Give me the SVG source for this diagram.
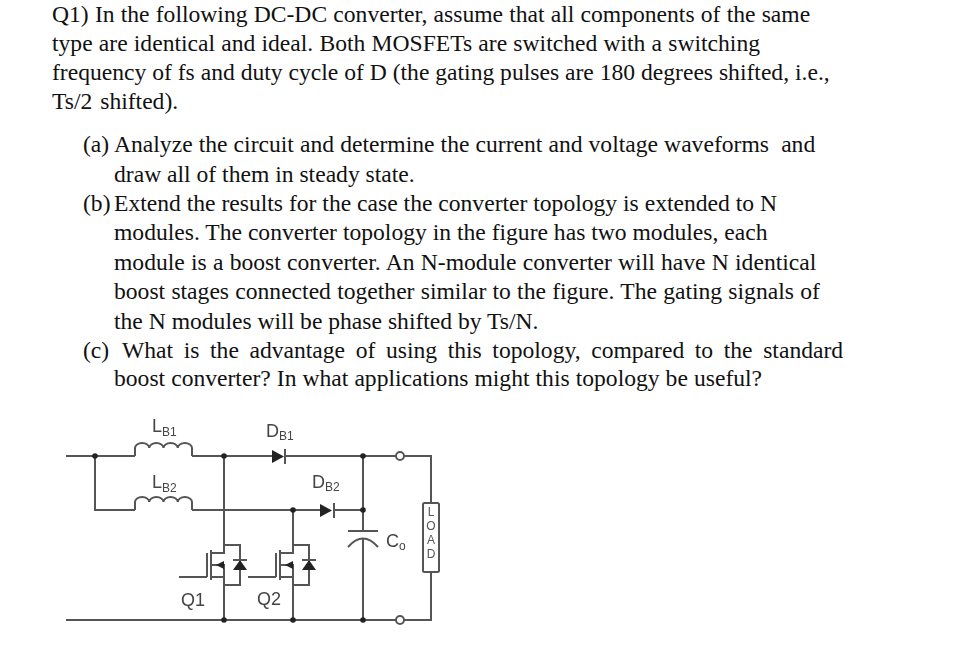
<svg xmlns="http://www.w3.org/2000/svg" width="956" height="652" viewBox="0 0 956 652">
<style>
.t{font-family:"Liberation Serif",serif;font-size:23.6px;fill:#111}
.l{font-family:"Liberation Sans",sans-serif;font-size:18px;fill:#444}
.s{font-size:12px}
.w{fill:none;stroke:#555;stroke-width:2}
.f{fill:#222;stroke:none}
.o{fill:#fff;stroke:#555;stroke-width:2}
</style>
<defs>
<filter id="soft" x="-5%" y="-5%" width="110%" height="110%"><feGaussianBlur stdDeviation="0.6"/></filter>
<path id="coil" d="M135 0v-8a7.125 5 0 0 1 14.250 0a7.125 5 0 0 1 14.250 0a7.125 5 0 0 1 14.250 0a7.125 5 0 0 1 14.250 0v8" class="w"/>
<g id="fet">
<path class="w" d="M-45 0H-17M-17 -24V0M-13 -27V3M-13 -24H0V-32M-13 0H0V8M-13 -12H0V0M0 -32H16V8H0"/>
<path class="f" d="M-8 -12L0 -16V-8Z"/>
<path class="f" d="M9 -7H23L16 -17Z"/>
<path class="w" d="M9 -17H23"/>
</g>
</defs>
<g id="question">
<text class="t" x="52" y="22" style="word-spacing:.3px">Q1) In the following DC-DC converter, assume that all components of the same</text>
<text class="t" x="52" y="51" style="word-spacing:.3px">type are identical and ideal. Both MOSFETs are switched with a switching</text>
<text class="t" x="52" y="80">frequency of fs and duty cycle of D (the gating pulses are 180 degrees shifted, i.e.,</text>
<text class="t" x="52" y="109" style="word-spacing:2px">Ts/2 shifted).</text>
<text class="t" x="83" y="152" xml:space="preserve" style="word-spacing:.2px">(a)<tspan x="114">Analyze the circuit and determine the current and voltage waveforms  and</tspan></text>
<text class="t" x="114" y="182">draw all of them in steady state.</text>
<text class="t" x="83" y="211">(b)<tspan x="114">Extend the results for the case the converter topology is extended to N</tspan></text>
<text class="t" x="114" y="240">modules. The converter topology in the figure has two modules, each</text>
<text class="t" x="114" y="270" style="word-spacing:.35px">module is a boost converter. An N-module converter will have N identical</text>
<text class="t" x="114" y="299" style="word-spacing:.35px">boost stages connected together similar to the figure. The gating signals of</text>
<text class="t" x="114" y="329">the N modules will be phase shifted by Ts/N.</text>
<text class="t" x="83" y="358" style="word-spacing:4.7px">(c)<tspan x="122">What is the advantage of using this topology, compared to the standard</tspan></text>
<text class="t" x="114" y="386" style="word-spacing:.15px">boost converter? In what applications might this topology be useful?</text>
</g>
<g id="circuit" filter="url(#soft)">
<g id="connectors">
<path class="w" d="M66 456H135M192 456H272M285 456H396M404 456H431V503M431 572V620H404M396 620H66"/>
<path class="w" d="M95 456V510H135M192 510H320M334 510H363M224 456V545M224 585V620M293 510V545M293 585V620M363 456V531M363 538V620"/>
</g>
<g id="LB1"><use href="#coil" transform="translate(0,456)"/><text class="l" x="152" y="432">L<tspan class="s" dy="4">B1</tspan></text></g>
<g id="LB2"><use href="#coil" transform="translate(0,510)"/><text class="l" x="152" y="488">L<tspan class="s" dy="4">B2</tspan></text></g>
<g id="DB1"><path class="f" d="M272 450V463L284 456.500Z"/><path class="w" d="M285 449V464"/><text class="l" x="266" y="437">D<tspan class="s" dy="3">B1</tspan></text></g>
<g id="DB2"><path class="f" d="M320 504V517L332 510.500Z"/><path class="w" d="M334 503V518"/><text class="l" x="312" y="488">D<tspan class="s" dy="3">B2</tspan></text></g>
<g id="Q1"><use href="#fet" transform="translate(224,577)"/><text class="l" x="181" y="606">Q1</text></g>
<g id="Q2"><use href="#fet" transform="translate(293,577)"/><text class="l" x="257" y="605">Q2</text></g>
<g id="Co"><path class="w" d="M348 531H378M348 547Q363 530 378 547"/><text class="l" x="386" y="547">C<tspan class="s" dy="3">o</tspan></text></g>
<g id="load"><rect class="o" x="423" y="503" width="16" height="69" rx="1.500"/>
<g font-family="Liberation Sans,sans-serif" font-size="12" fill="#555" text-anchor="middle"><text x="431" y="516">L</text><text x="431" y="530">O</text><text x="431" y="544">A</text><text x="431" y="558">D</text></g></g>
<g id="terminals"><circle class="o" cx="400" cy="456" r="4"/><circle class="o" cx="400" cy="620" r="4"/></g>
<g id="junctions" class="f"><circle cx="95" cy="456" r="2.800"/><circle cx="224" cy="456" r="2.800"/><circle cx="363" cy="456" r="2.800"/><circle cx="293" cy="510" r="2.800"/><circle cx="363" cy="510" r="2.800"/><circle cx="224" cy="620" r="2.800"/><circle cx="293" cy="620" r="2.800"/><circle cx="363" cy="620" r="2.800"/></g>
</g>
</svg>
